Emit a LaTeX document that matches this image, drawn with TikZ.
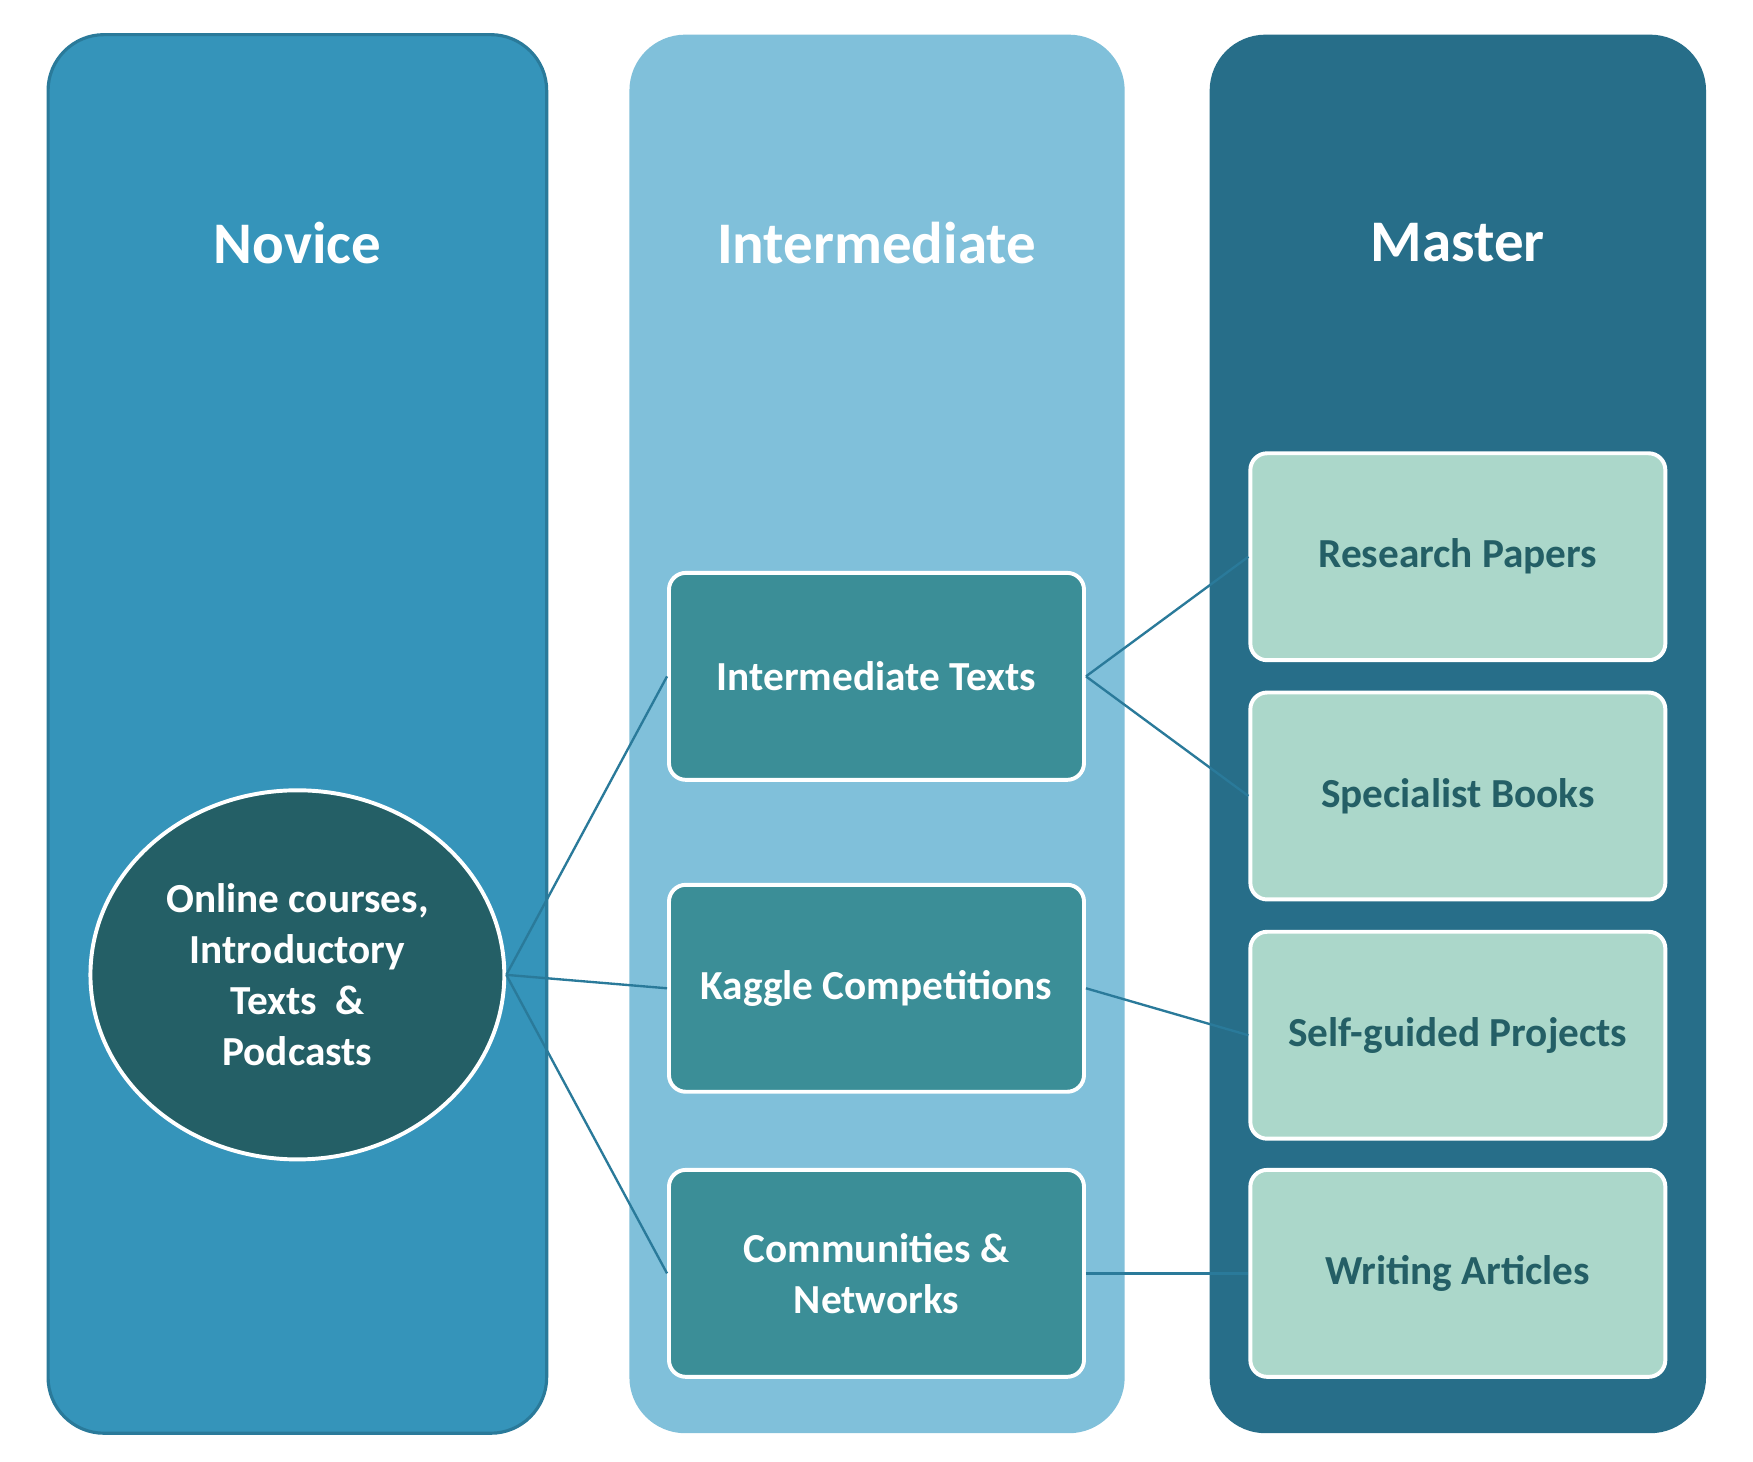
\documentclass[tikz,border=0pt]{standalone}
\usepackage{fontspec}
\setmainfont{Carlito}
\usetikzlibrary{shapes.geometric}
\definecolor{novice}{HTML}{3594BA}
\definecolor{noviceline}{HTML}{2A7A9A}
\definecolor{inter}{HTML}{80C0DA}
\definecolor{master}{HTML}{276E89}
\definecolor{darkteal}{HTML}{245F66}
\definecolor{midteal}{HTML}{3B8E97}
\definecolor{mint}{HTML}{ABD7CA}
\tikzset{
  col/.style={rounded corners=0.5cm},
  title/.style={text=white,font=\bfseries\fontsize{15}{18}\selectfont},
  ibox/.style={draw=white,line width=1pt,fill=midteal,rounded corners=0.15cm,
    minimum width=3.71cm,minimum height=1.85cm,text=white,align=center,
    font=\bfseries\fontsize{10.5}{13}\selectfont},
  mbox/.style={ibox,fill=mint,text=darkteal},
  link/.style={draw=noviceline,line width=0.6pt}
}
\begin{document}
\begin{tikzpicture}[x=0.01cm,y=-0.01cm]
\useasboundingbox (0,0) rectangle (1568,1307);
\fill[white] (0,0) rectangle (1568,1307);
% columns
\filldraw[col,fill=novice,draw=noviceline,line width=0.8pt] (43,31) rectangle (489,1282);
\fill[col,inter] (563,31) rectangle (1006,1282);
\fill[col,master] (1082,31) rectangle (1526,1282);
\node[title] (tn) at (266,217) {Novice};
\node[title] (ti) at (784,217) {Intermediate};
\node[title] (tm) at (1304,217) {Master};
% novice
\node[ellipse,draw=white,line width=1pt,fill=darkteal,minimum width=3.7cm,minimum height=3.3cm,
  text=white,align=center,font=\bfseries\fontsize{10.5}{13}\selectfont] (on) at (266,872)
  {Online courses,\\Introductory\\Texts \ \&\\Podcasts};
% intermediate
\node[ibox] (it) at (784,605) {Intermediate Texts};
\node[ibox] (kc) at (784,884) {Kaggle Competitions};
\node[ibox] (cn) at (784,1139) {Communities \&\\Networks};
% master
\node[mbox] (rp) at (1304,498) {Research Papers};
\node[mbox] (sb) at (1304,712) {Specialist Books};
\node[mbox] (sp) at (1304,926) {Self-guided Projects};
\node[mbox] (wa) at (1304,1139) {Writing Articles};
% connectors
\draw[link] (on.east) -- (it.west);
\draw[link] (on.east) -- (kc.west);
\draw[link] (on.east) -- (cn.west);
\draw[link] (it.east) -- (rp.west);
\draw[link] (it.east) -- (sb.west);
\draw[link] (kc.east) -- (sp.west);
\draw[link] (cn.east) -- (wa.west);
\end{tikzpicture}
\end{document}
